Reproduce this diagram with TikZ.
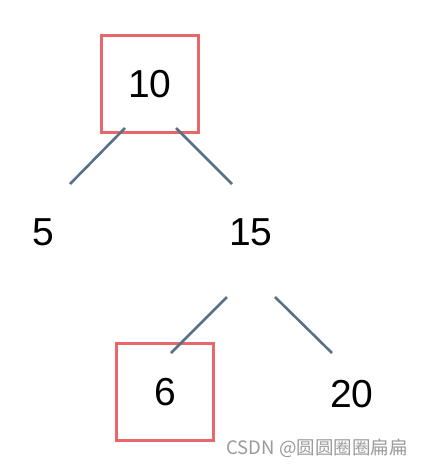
\documentclass[tikz,border=0pt]{standalone}
\usepackage{fontspec}
\setmainfont{Liberation Sans}
\newfontfamily\cjk{Noto Sans CJK SC}
\usepackage{xcolor}
\definecolor{boxred}{HTML}{E8676A}
\definecolor{edgeblue}{HTML}{58718A}
\definecolor{markgray}{HTML}{9A9A9A}

\begin{document}
\begin{tikzpicture}[x=1pt, y=-1pt,
  key/.style={font=\fontsize{39}{39}\selectfont, inner sep=0pt},
  boxed/.style={key, draw=boxred, line width=2.2pt, minimum size=97pt},
  edge/.style={draw=edgeblue, line width=2.6pt}]
  \useasboundingbox (0,0) rectangle (427,467);

  % Keys
  \node[boxed] (n10) at (150,84) {10};
  \node[key] (n5) at (43,232) {5};
  \node[key] (n15) at (251,232) {15};
  \node[boxed] (n6) at (165,392) {6};
  \node[key] (n20) at (352,394) {20};

  % Edges
  \draw[edge] ([xshift=-25pt,yshift=-44pt]n10.center) -- ([xshift=27pt,yshift=48pt]n5.center);
  \draw[edge] ([xshift=26pt,yshift=-44pt]n10.center) -- ([xshift=-19pt,yshift=48pt]n15.center);
  \draw[edge] ([xshift=-24pt,yshift=-65pt]n15.center) -- ([xshift=6pt,yshift=39pt]n6.center);
  \draw[edge] ([xshift=24pt,yshift=-65pt]n15.center) -- ([xshift=-20pt,yshift=41pt]n20.center);

  % Watermark
  \node[text=markgray, font=\cjk\fontsize{18.5}{18.5}\selectfont, inner sep=0pt] (mark) at (317,448) {CSDN @圆圆圈圈扁扁};
\end{tikzpicture}
\end{document}
